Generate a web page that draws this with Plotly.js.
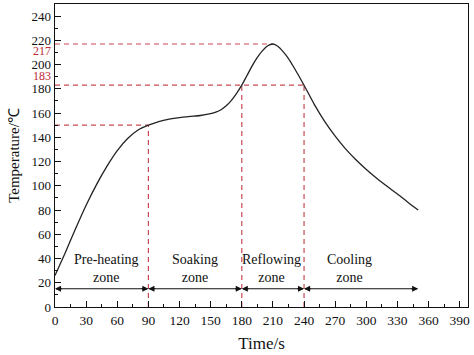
<!DOCTYPE html>
<html><head><meta charset="utf-8">
<script src="https://cdn.plot.ly/plotly-3.0.1.min.js"></script>
<style>html,body{margin:0;padding:0;background:#fff}#chart{width:474px;height:355px}</style>
</head><body><div id="chart"></div>
<script>
const time = [0,10,20,30,40,50,60,70,80,90,100,110,120,130,140,150,155,160,165,170,175,180,185,190,195,200,205,210,215,220,225,230,240,250,260,270,280,290,300,310,320,330,340,350];
const temp = [26,45,65,84,101,116,129,139,146,150,153,155,156.3,157.2,158,159.6,160.8,162.8,166,170.5,176.3,183,191,199,206,211.5,215.5,217,215,210.5,205,198,183,167,153,141,130.5,121.5,113.5,106.3,99.6,93.2,86.5,80];
const markTime = [90,180,240];
const markTemp = [150,183,183];
const peakTime = 210, peakTemp = 217;
const zoneBounds = [0,90,180,240,350];
const zoneNames = ['Pre-heating<br>zone','Soaking<br>zone','Reflowing<br>zone','Cooling<br>zone'];
const zoneTextPos = [50,135,209,284];
const arrowLevel = 15;
const redLabels = [217,183];

const red = 'rgb(200,75,85)';
const serif = 'Liberation Serif, Times New Roman, serif';
const dashLine = {color:red,width:1.2,dash:'5px,4px'};
const traces = [];
for (let i=0;i<markTime.length;i++){
  traces.push({x:[markTime[i],markTime[i]],y:[0,markTemp[i]],mode:'lines',line:dashLine});
}
traces.push({x:[0,markTime[0]],y:[markTemp[0],markTemp[0]],mode:'lines',line:dashLine});
traces.push({x:[0,markTime[2]],y:[markTemp[1],markTemp[1]],mode:'lines',line:dashLine});
traces.push({x:[0,peakTime],y:[peakTemp,peakTemp],mode:'lines',line:dashLine});
traces.push({x:time,y:temp,mode:'lines',line:{color:'#222',width:1.3,shape:'spline',smoothing:0.7}});

const ax=[], ay=[];
for (let i=0;i<zoneBounds.length-1;i++){
  ax.push(zoneBounds[i]+1,zoneBounds[i+1]-1,null); ay.push(arrowLevel,arrowLevel,null);
}
traces.push({x:ax,y:ay,mode:'lines',line:{color:'#111',width:1.1},connectgaps:false});

const ann = [];
for (let i=0;i<zoneBounds.length-1;i++){
  const a=zoneBounds[i], b=zoneBounds[i+1];
  ann.push({x:a,y:arrowLevel,ax:a+8,ay:arrowLevel,axref:'x',ayref:'y',xref:'x',yref:'y',text:'',showarrow:true,arrowhead:2,arrowsize:1.1,arrowwidth:1.1,arrowcolor:'#111',standoff:0});
  ann.push({x:b,y:arrowLevel,ax:b-8,ay:arrowLevel,axref:'x',ayref:'y',xref:'x',yref:'y',text:'',showarrow:true,arrowhead:2,arrowsize:1.1,arrowwidth:1.1,arrowcolor:'#111',standoff:0});
  ann.push({x:zoneTextPos[i],y:arrowLevel+1.5,xref:'x',yref:'y',text:zoneNames[i],showarrow:false,yanchor:'bottom',font:{family:serif,size:14,color:'#111'},align:'center'});
}
const redPos = [211.2,190.4];
redLabels.forEach((v,i)=>ann.push({x:0,xref:'paper',y:redPos[i],yref:'y',text:String(v),showarrow:false,xanchor:'right',xshift:-3,borderpad:0,font:{family:serif,size:12,color:'rgb(190,40,50)'}}));

const layout = {
  width:474,height:355,
  margin:{l:55,r:6,t:4,b:48},
  paper_bgcolor:'#fff',plot_bgcolor:'#fff',
  showlegend:false,
  font:{family:serif,size:13,color:'#111'},
  xaxis:{range:[0,398],dtick:30,tick0:0,ticks:'inside',ticklen:6,tickwidth:1,tickcolor:'#111',
    showline:true,linecolor:'#111',linewidth:1.4,mirror:true,showgrid:false,zeroline:false,
    minor:{dtick:15,ticks:'inside',ticklen:3,tickcolor:'#111'},
    title:{text:'Time/s',font:{family:serif,size:17},standoff:10},tickfont:{family:serif,size:13.5}},
  yaxis:{range:[0,250],dtick:20,tick0:0,ticks:'inside',ticklen:6,tickwidth:1,tickcolor:'#111',
    showline:true,linecolor:'#111',linewidth:1.4,mirror:true,showgrid:false,zeroline:false,
    minor:{dtick:10,ticks:'inside',ticklen:3,tickcolor:'#111'},
    title:{text:'Temperature/℃',font:{family:serif,size:15},standoff:8},tickfont:{family:serif,size:13}},
  annotations:ann
};
Plotly.newPlot('chart',traces,layout,{staticPlot:true,displayModeBar:false});
</script></body></html>
